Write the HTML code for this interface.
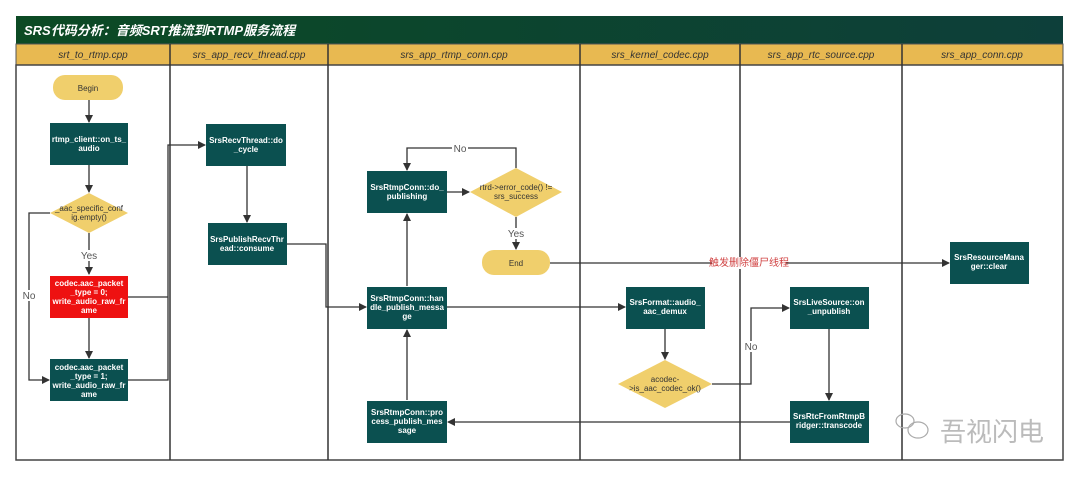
<!DOCTYPE html>
<html><head><meta charset="utf-8"><style>
html,body{margin:0;padding:0;background:#fff;width:1080px;height:478px;overflow:hidden}
svg{display:block}
.t{font-family:"Liberation Sans",Arial,sans-serif;font-size:8px;font-weight:bold;fill:#fff;text-anchor:middle}
.d{font-family:"Liberation Sans",Arial,sans-serif;font-size:8px;fill:#333;text-anchor:middle}
.h{font-family:"Liberation Sans",Arial,sans-serif;font-size:10px;font-style:italic;fill:#333;text-anchor:middle}
.l{font-family:"Liberation Sans",Arial,sans-serif;font-size:10px;fill:#555;text-anchor:middle}
</style></head><body>
<svg width="1080" height="478" viewBox="0 0 1080 478">
<defs>
<linearGradient id="g" x1="0" x2="1"><stop offset="0" stop-color="#0c4a24"/><stop offset="1" stop-color="#0d3f3a"/></linearGradient>
<marker id="a" markerWidth="8" markerHeight="8" refX="7" refY="4" orient="auto" markerUnits="userSpaceOnUse"><path d="M0,0 L8,4 L0,8 z" fill="#333"/></marker>
</defs>
<rect x="16" y="16" width="1047" height="28" fill="url(#g)"/>
<text x="24" y="35" font-family="'Liberation Sans','Noto Sans CJK SC',sans-serif" font-size="13" font-weight="bold" font-style="italic" fill="#fff">SRS代码分析：音频SRT推流到RTMP服务流程</text>
<rect x="16" y="44" width="1047" height="21" fill="#e8b951" stroke="#555" stroke-width="1"/>
<rect x="16" y="65" width="1047" height="395" fill="#fff" stroke="#444" stroke-width="1.5"/>
<g stroke="#333" stroke-width="1.5">
<line x1="170" y1="44" x2="170" y2="460"/><line x1="328" y1="44" x2="328" y2="460"/>
<line x1="580" y1="44" x2="580" y2="460"/><line x1="740" y1="44" x2="740" y2="460"/>
<line x1="902" y1="44" x2="902" y2="460"/>
</g>
<text class="h" x="93" y="58">srt_to_rtmp.cpp</text>
<text class="h" x="249" y="58">srs_app_recv_thread.cpp</text>
<text class="h" x="454" y="58">srs_app_rtmp_conn.cpp</text>
<text class="h" x="660" y="58">srs_kernel_codec.cpp</text>
<text class="h" x="821" y="58">srs_app_rtc_source.cpp</text>
<text class="h" x="982" y="58">srs_app_conn.cpp</text>

<g stroke="#333" stroke-width="1.3" fill="none">
<line x1="89" y1="100" x2="89" y2="122" marker-end="url(#a)"/>
<line x1="89" y1="165" x2="89" y2="192" marker-end="url(#a)"/>
<line x1="89" y1="233" x2="89" y2="274" marker-end="url(#a)"/>
<line x1="89" y1="318" x2="89" y2="358" marker-end="url(#a)"/>
<polyline points="50,213 29,213 29,380 49,380" marker-end="url(#a)"/>
<polyline points="128,297 168,297"/>
<polyline points="128,380 168,380 168,145 205,145" marker-end="url(#a)"/>
<line x1="247" y1="166" x2="247" y2="222" marker-end="url(#a)"/>
<polyline points="287,244 326,244 326,307 366,307" marker-end="url(#a)"/>
<line x1="407" y1="286" x2="407" y2="214" marker-end="url(#a)"/>
<line x1="407" y1="400" x2="407" y2="330" marker-end="url(#a)"/>
<line x1="447" y1="192" x2="469" y2="192" marker-end="url(#a)"/>
<polyline points="516,168 516,148 407,148 407,170" marker-end="url(#a)"/>
<line x1="516" y1="217" x2="516" y2="249" marker-end="url(#a)"/>
<line x1="550" y1="263" x2="949" y2="263" marker-end="url(#a)"/>
<line x1="447" y1="307" x2="625" y2="307" marker-end="url(#a)"/>
<line x1="665" y1="329" x2="665" y2="359" marker-end="url(#a)"/>
<polyline points="712,384 751,384 751,308 789,308" marker-end="url(#a)"/>
<line x1="829" y1="329" x2="829" y2="400" marker-end="url(#a)"/>
<line x1="790" y1="422" x2="448" y2="422" marker-end="url(#a)"/>
</g>
<rect x="82" y="250" width="14" height="11" fill="#fff"/><text class="l" x="89" y="259">Yes</text>
<rect x="22" y="290" width="14" height="11" fill="#fff"/><text class="l" x="29" y="299">No</text>
<rect x="452" y="143" width="16" height="11" fill="#fff"/><text class="l" x="460" y="152">No</text>
<rect x="507" y="228" width="18" height="11" fill="#fff"/><text class="l" x="516" y="237">Yes</text>
<rect x="744" y="341" width="14" height="11" fill="#fff"/><text class="l" x="751" y="350">No</text>
<rect x="712" y="257" width="74" height="12" fill="#fff"/>
<text x="749" y="266" font-family="'Noto Sans CJK SC',sans-serif" font-size="10" fill="#d04040" text-anchor="middle">触发删除僵尸线程</text>

<rect x="53" y="75" width="70" height="25" rx="12" fill="#f0cf6c"/><text class="d" x="88" y="91">Begin</text>
<rect x="482" y="250" width="68" height="25" rx="12" fill="#f0cf6c"/><text class="d" x="516" y="266">End</text>
<polygon points="89,193 128,213 89,233 50,213" fill="#f0cf6c"/>
<text class="d" x="89" y="211">_aac_specific_conf</text><text class="d" x="89" y="220">ig.empty()</text>
<polygon points="516,168 562,192 516,217 470,192" fill="#f0cf6c"/>
<text class="d" x="516" y="190">rtrd-&gt;error_code() !=</text><text class="d" x="516" y="199">srs_success</text>
<polygon points="665,360 712,384 665,408 618,384" fill="#f0cf6c"/>
<text class="d" x="665" y="382">acodec-</text><text class="d" x="665" y="391">&gt;is_aac_codec_ok()</text>

<g fill="#0b5050">
<rect x="50" y="123" width="78" height="42"/>
<rect x="50" y="359" width="78" height="42"/>
<rect x="206" y="124" width="80" height="42"/>
<rect x="208" y="223" width="79" height="42"/>
<rect x="367" y="171" width="80" height="42"/>
<rect x="367" y="287" width="80" height="42"/>
<rect x="367" y="401" width="80" height="42"/>
<rect x="626" y="287" width="79" height="42"/>
<rect x="790" y="287" width="79" height="42"/>
<rect x="790" y="401" width="79" height="42"/>
<rect x="950" y="242" width="79" height="42"/>
</g>
<rect x="50" y="276" width="78" height="42" fill="#ee1111"/>
<g>
<text class="t" x="89" y="142">rtmp_client::on_ts_</text><text class="t" x="89" y="151">audio</text>
<text class="t" x="89" y="286">codec.aac_packet</text><text class="t" x="89" y="295">_type = 0;</text><text class="t" x="89" y="304">write_audio_raw_fr</text><text class="t" x="89" y="313">ame</text>
<text class="t" x="89" y="370">codec.aac_packet</text><text class="t" x="89" y="379">_type = 1;</text><text class="t" x="89" y="388">write_audio_raw_fr</text><text class="t" x="89" y="397">ame</text>
<text class="t" x="246" y="143">SrsRecvThread::do</text><text class="t" x="246" y="152">_cycle</text>
<text class="t" x="247" y="242">SrsPublishRecvThr</text><text class="t" x="247" y="251">ead::consume</text>
<text class="t" x="407" y="190">SrsRtmpConn::do_</text><text class="t" x="407" y="199">publishing</text>
<text class="t" x="407" y="301">SrsRtmpConn::han</text><text class="t" x="407" y="310">dle_publish_messa</text><text class="t" x="407" y="319">ge</text>
<text class="t" x="407" y="415">SrsRtmpConn::pro</text><text class="t" x="407" y="424">cess_publish_mes</text><text class="t" x="407" y="433">sage</text>
<text class="t" x="665" y="305">SrsFormat::audio_</text><text class="t" x="665" y="314">aac_demux</text>
<text class="t" x="829" y="305">SrsLiveSource::on</text><text class="t" x="829" y="314">_unpublish</text>
<text class="t" x="829" y="419">SrsRtcFromRtmpB</text><text class="t" x="829" y="428">ridger::transcode</text>
<text class="t" x="989" y="260">SrsResourceMana</text><text class="t" x="989" y="269">ger::clear</text>
</g>
<g stroke="#aaa" stroke-width="1.2" fill="none">
<ellipse cx="905" cy="421" rx="9" ry="7"/><ellipse cx="918" cy="430" rx="10" ry="8"/>
</g>
<text x="940" y="441" font-family="'Noto Sans CJK SC',sans-serif" font-size="26" fill="#bbb">吾视闪电</text>
</svg>
</body></html>
